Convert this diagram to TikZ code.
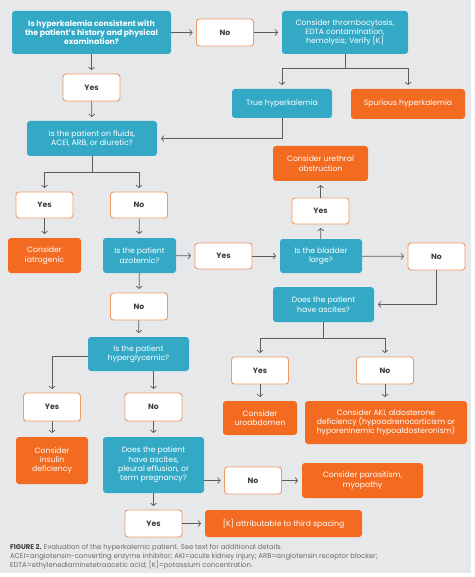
\documentclass[tikz,border=0pt]{standalone}
\usepackage{fontspec}
\setmainfont{Poppins}
\usepackage{tikz}
\usetikzlibrary{arrows.meta,calc,positioning}
\definecolor{bggray}{HTML}{E7E8EA}
\definecolor{qteal}{HTML}{33A9C6}
\definecolor{endorange}{HTML}{F26B21}
\definecolor{ansline}{HTML}{EE9A62}
\definecolor{arrgray}{HTML}{5C5C5C}
\definecolor{txtgray}{HTML}{3C3C3C}
\definecolor{captgray}{HTML}{6A6A6A}

\begin{document}
\begin{tikzpicture}[x=1pt,y=-1pt,
	>={Straight Barb[length=2.5pt,width=6pt]},
	every node/.style={font=\fontsize{7.7}{9.3}\selectfont, align=center, inner sep=0pt, outer sep=0pt},
	qbox/.style={fill=qteal, text=white, rounded corners=3pt},
	ansbox/.style={fill=white, draw=ansline, line width=0.9pt, text=txtgray, font=\fontsize{7.7}{9.3}\selectfont\bfseries, rounded corners=3pt, minimum width=57pt, minimum height=27pt},
	endbox/.style={fill=endorange, text=white, rounded corners=3pt},
	link/.style={->, draw=arrgray, line width=0.7pt, shorten >=4pt}]
	\useasboundingbox (0,0) rectangle (474,577);
	\fill[white] (0,0) rectangle (474,577);
	\fill[bggray] (0,0) rectangle (471,573);

	% first question
	\node[qbox, minimum width=159pt, minimum height=43pt, font=\fontsize{7.7}{9.3}\selectfont\bfseries] (1) at (91.5,32.5) {Is hyperkalemia consistent with\\the patient's history and physical\\examination?};
	\node[ansbox] (2) at (225,32.5) {No};
	\node[qbox, minimum width=126pt, minimum height=43pt] (3) at (345,32.5) {Consider thrombocytosis,\\EDTA contamination,\\hemolysis; Verify [K]};
	\node[ansbox] (4) at (91.5,87.5) {Yes};
	\node[qbox, minimum width=100pt, minimum height=29pt] (5) at (282,103.5) {True hyperkalemia};
	\node[endbox, minimum width=114pt, minimum height=30pt] (6) at (408,104) {Spurious hyperkalemia};

	% fluids
	\node[qbox, minimum width=130pt, minimum height=35pt] (7) at (92,138.5) {Is the patient on fluids,\\ACEI, ARB, or diuretic?};
	\node[ansbox, minimum height=26pt] (8) at (44.5,205) {Yes};
	\node[ansbox, minimum height=26pt] (9) at (139,205) {No};
	\node[endbox, minimum width=73pt, minimum height=35pt] (10) at (44.5,255.5) {Consider\\iatrogenic};
	\node[qbox, minimum width=73pt, minimum height=35pt] (11) at (139.5,255.5) {Is the patient\\azotemic?};

	% bladder
	\node[ansbox, minimum height=26pt] (12) at (223.5,256) {Yes};
	\node[qbox, minimum width=82pt, minimum height=34pt] (13) at (321,256) {Is the bladder\\large?};
	\node[ansbox, minimum height=26pt] (14) at (320.5,211) {Yes};
	\node[endbox, minimum width=95pt, minimum height=35pt] (15) at (320.5,163.5) {Consider urethral\\obstruction};
	\node[ansbox] (16) at (436.5,256.5) {No};

	% ascites
	\node[qbox, minimum width=101pt, minimum height=35pt] (18) at (323.5,304.5) {Does the patient\\have ascites?};
	\node[ansbox] (20) at (260,370.5) {Yes};
	\node[ansbox] (21) at (385,370.5) {No};
	\node[endbox, minimum width=74pt, minimum height=34pt] (22) at (260,418) {Consider\\uroabdomen};
	\node[endbox, minimum width=162pt, minimum height=43pt] (23) at (386,422.5) {Consider AKI, aldosterone\\deficiency (hypoadrenocorticism or\\hyporeninemic hypoaldosteronism)};

	% hyperglycemia
	\node[ansbox] (17) at (139,306.5) {No};
	\node[qbox, minimum width=101pt, minimum height=34pt] (19) at (138.5,354) {Is the patient\\hyperglycemic?};
	\node[ansbox, minimum height=28pt] (24) at (52,407) {Yes};
	\node[ansbox, minimum height=28pt] (25) at (153.5,407) {No};
	\node[endbox, minimum width=72pt, minimum height=47pt] (26) at (52,460.5) {Consider\\insulin\\deficiency};
	\node[qbox, minimum width=101pt, minimum height=56pt] (27) at (153.5,465) {Does the patient\\have ascites,\\pleural effusion, or\\term pregnancy?};
	\node[ansbox] (28) at (253,480.5) {No};
	\node[endbox, minimum width=121pt, minimum height=35pt] (29) at (362.5,480.5) {Consider parasitism,\\myopathy};
	\node[ansbox] (30) at (153.5,523.5) {Yes};
	\node[endbox, minimum width=157pt, minimum height=27pt] (31) at (283.5,523.5) {[K] attributable to third spacing};

	\node[anchor=north west, align=left, text=captgray, font=\fontsize{6.9}{9}\selectfont] (32) at (10,544.5) {\textcolor{txtgray}{\textbf{FIGURE 2.}} Evaluation of the hyperkalemic patient. See text for additional details.\\ACEI=angiotensin-converting enzyme inhibitor; AKI=acute kidney injury; ARB=angiotensin receptor blocker;\\EDTA=ethylenediaminetetraacetic acid; [K]=potassium concentration.};

	\draw[link] (1) -- (2);
	\draw[link] (2) -- (3);
	\draw[link] (1) -- (4);
	\draw[link] (4) -- (7);
	\draw[link] (3.south) -- ++(0,14.5) -| (5.north);
	\draw[link] (3.south) -- ++(0,14.5) -| (6.north);
	\draw[link] (5.south) |- (7.east);
	\draw[link] (7.south) -- ++(0,16) -| (8.north);
	\draw[link] (7.south) -- ++(0,16) -| (9.north);
	\draw[link] (8) -- (10);
	\draw[link] (9) -- (11);
	\draw[link] (11) -- (12);
	\draw[link] (12) -- (13);
	\draw[link] (13) -- (14);
	\draw[link] (14) -- (15);
	\draw[link] (13) -- (16);
	\draw[link] (16.south) |- (18.east);
	\draw[link] (18.south) -- ++(0,16) -| (20.north);
	\draw[link] (18.south) -- ++(0,16) -| (21.north);
	\draw[link] (20) -- (22);
	\draw[link] (21.south) -- (21.south |- 23.north);
	\draw[link] (11) -- (17);
	\draw[link] (17) -- (19);
	\draw[link] ([yshift=-2pt]19.west) -| (24.north);
	\draw[link] (19.south -| 25.north) -- (25.north);
	\draw[link] (24) -- (26);
	\draw[link] (25) -- (27);
	\draw[link] (27.east |- 28.west) -- (28.west);
	\draw[link] (28) -- (29);
	\draw[link] (27) -- (30);
	\draw[link] (30) -- (31);
\end{tikzpicture}
\end{document}
